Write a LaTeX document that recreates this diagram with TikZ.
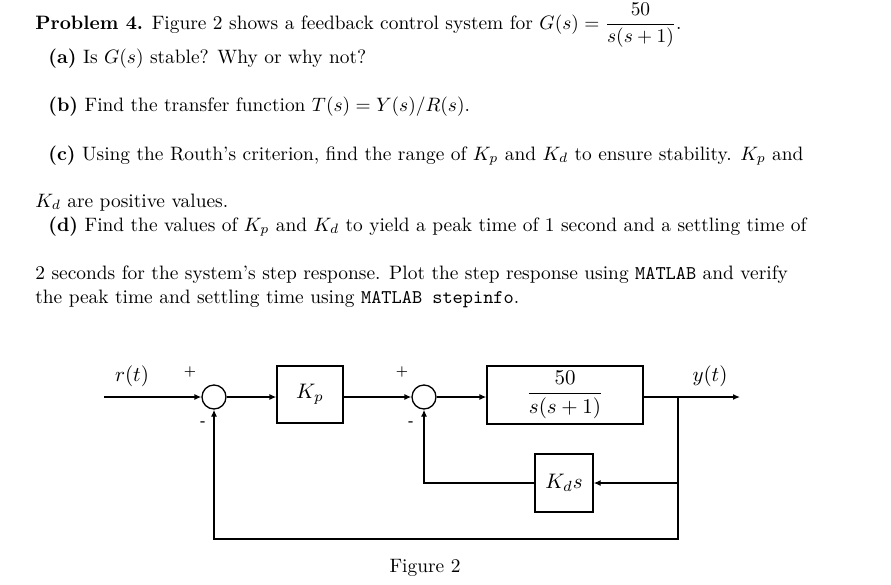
\documentclass[tikz,border=0pt]{standalone}
\usepackage{amsmath}
\usetikzlibrary{arrows.meta}
\begin{document}
\begin{tikzpicture}[x=1pt,y=-1pt,
 txt/.style={anchor=base west,inner sep=0pt,font=\normalsize,scale=1.94,transform shape},
 blk/.style={draw,line width=1.3pt,inner sep=0pt},
 sum/.style={draw,circle,line width=1.3pt,minimum size=24pt,inner sep=0pt},
 lab/.style={inner sep=0pt,font=\normalsize,scale=2.1,transform shape},
 sg/.style={inner sep=0pt,font=\bfseries\fontsize{14}{14}\selectfont},
 w/.style={line width=1.3pt},
 a/.style={w,-{Latex[length=7pt,width=6pt]}}]
\useasboundingbox (0,0) rectangle (891,584);
\node[txt] (l1) at (35,29) {\textbf{Problem 4.} Figure 2 shows a feedback control system for $G(s)=\dfrac{50}{s(s+1)}$.};
\node[txt] (l2) at (48,63) {\textbf{(a)} Is $G(s)$ stable? Why or why not?};
\node[txt] (l3) at (48,111) {\textbf{(b)} Find the transfer function $T(s)=Y(s)/R(s)$.};
\node[txt] (l4) at (48,160) {\textbf{(c)} Using the Routh's criterion, find the range of $K_p$ and $K_d$ to ensure stability. $K_p$ and};
\node[txt] (l5) at (35,207) {$K_d$ are positive values.};
\node[txt] (l6) at (48,231) {\textbf{(d)} Find the values of $K_p$ and $K_d$ to yield a peak time of 1 second and a settling time of};
\node[txt] (l7) at (35,279) {2 seconds for the system's step response. Plot the step response using \texttt{MATLAB} and verify};
\node[txt] (l8) at (35,303) {the peak time and settling time using \texttt{MATLAB stepinfo}.};
% diagram
\coordinate (in) at (104,397);
\node[sum] (s1) at (214,397) {};
\node[blk,minimum width=66pt,minimum height=57pt] (kp) at (310,394.5) {};
\node[lab] at (310,394) {$K_p$};
\node[sum] (s2) at (424,397) {};
\node[blk,minimum width=156pt,minimum height=58pt] (g) at (565,395) {};
\node[lab] (gt) at (565,395) {$\dfrac{50}{s(s+1)}$};
\node[blk,minimum width=58pt,minimum height=58pt] (kd) at (564,483) {};
\node[lab] at (564,483) {$K_d s$};
\coordinate (out) at (740,397);
\coordinate (br) at (678,397);
\draw[a] (in) -- (s1.west);
\draw[a] (s1.east) -- (kp.west |- s1);
\draw[a] (kp.east |- s2) -- (s2.west);
\draw[a] (s2.east) -- (g.west |- s2);
\draw[a] (g.east |- br) -- (out);
\draw[a] (br) -- (br |- kd) -- (kd.east);
\draw[a] (kd.west) -- (s2 |- kd) -- (s2.south);
\draw[a] (br |- kd) -- (678,539) -- (214,539) -- (s1.south);
\node[lab] (r) at (132,376) {$r(t)$};
\node[lab] (y) at (710,376) {$y(t)$};
\node[sg] at (190,372) {+};
\node[sg] at (203,424) {-};
\node[sg] at (402,372) {+};
\node[sg] at (411,424) {-};
\node[txt,anchor=center] (f2) at (425,568) {Figure 2};
\end{tikzpicture}
\end{document}
